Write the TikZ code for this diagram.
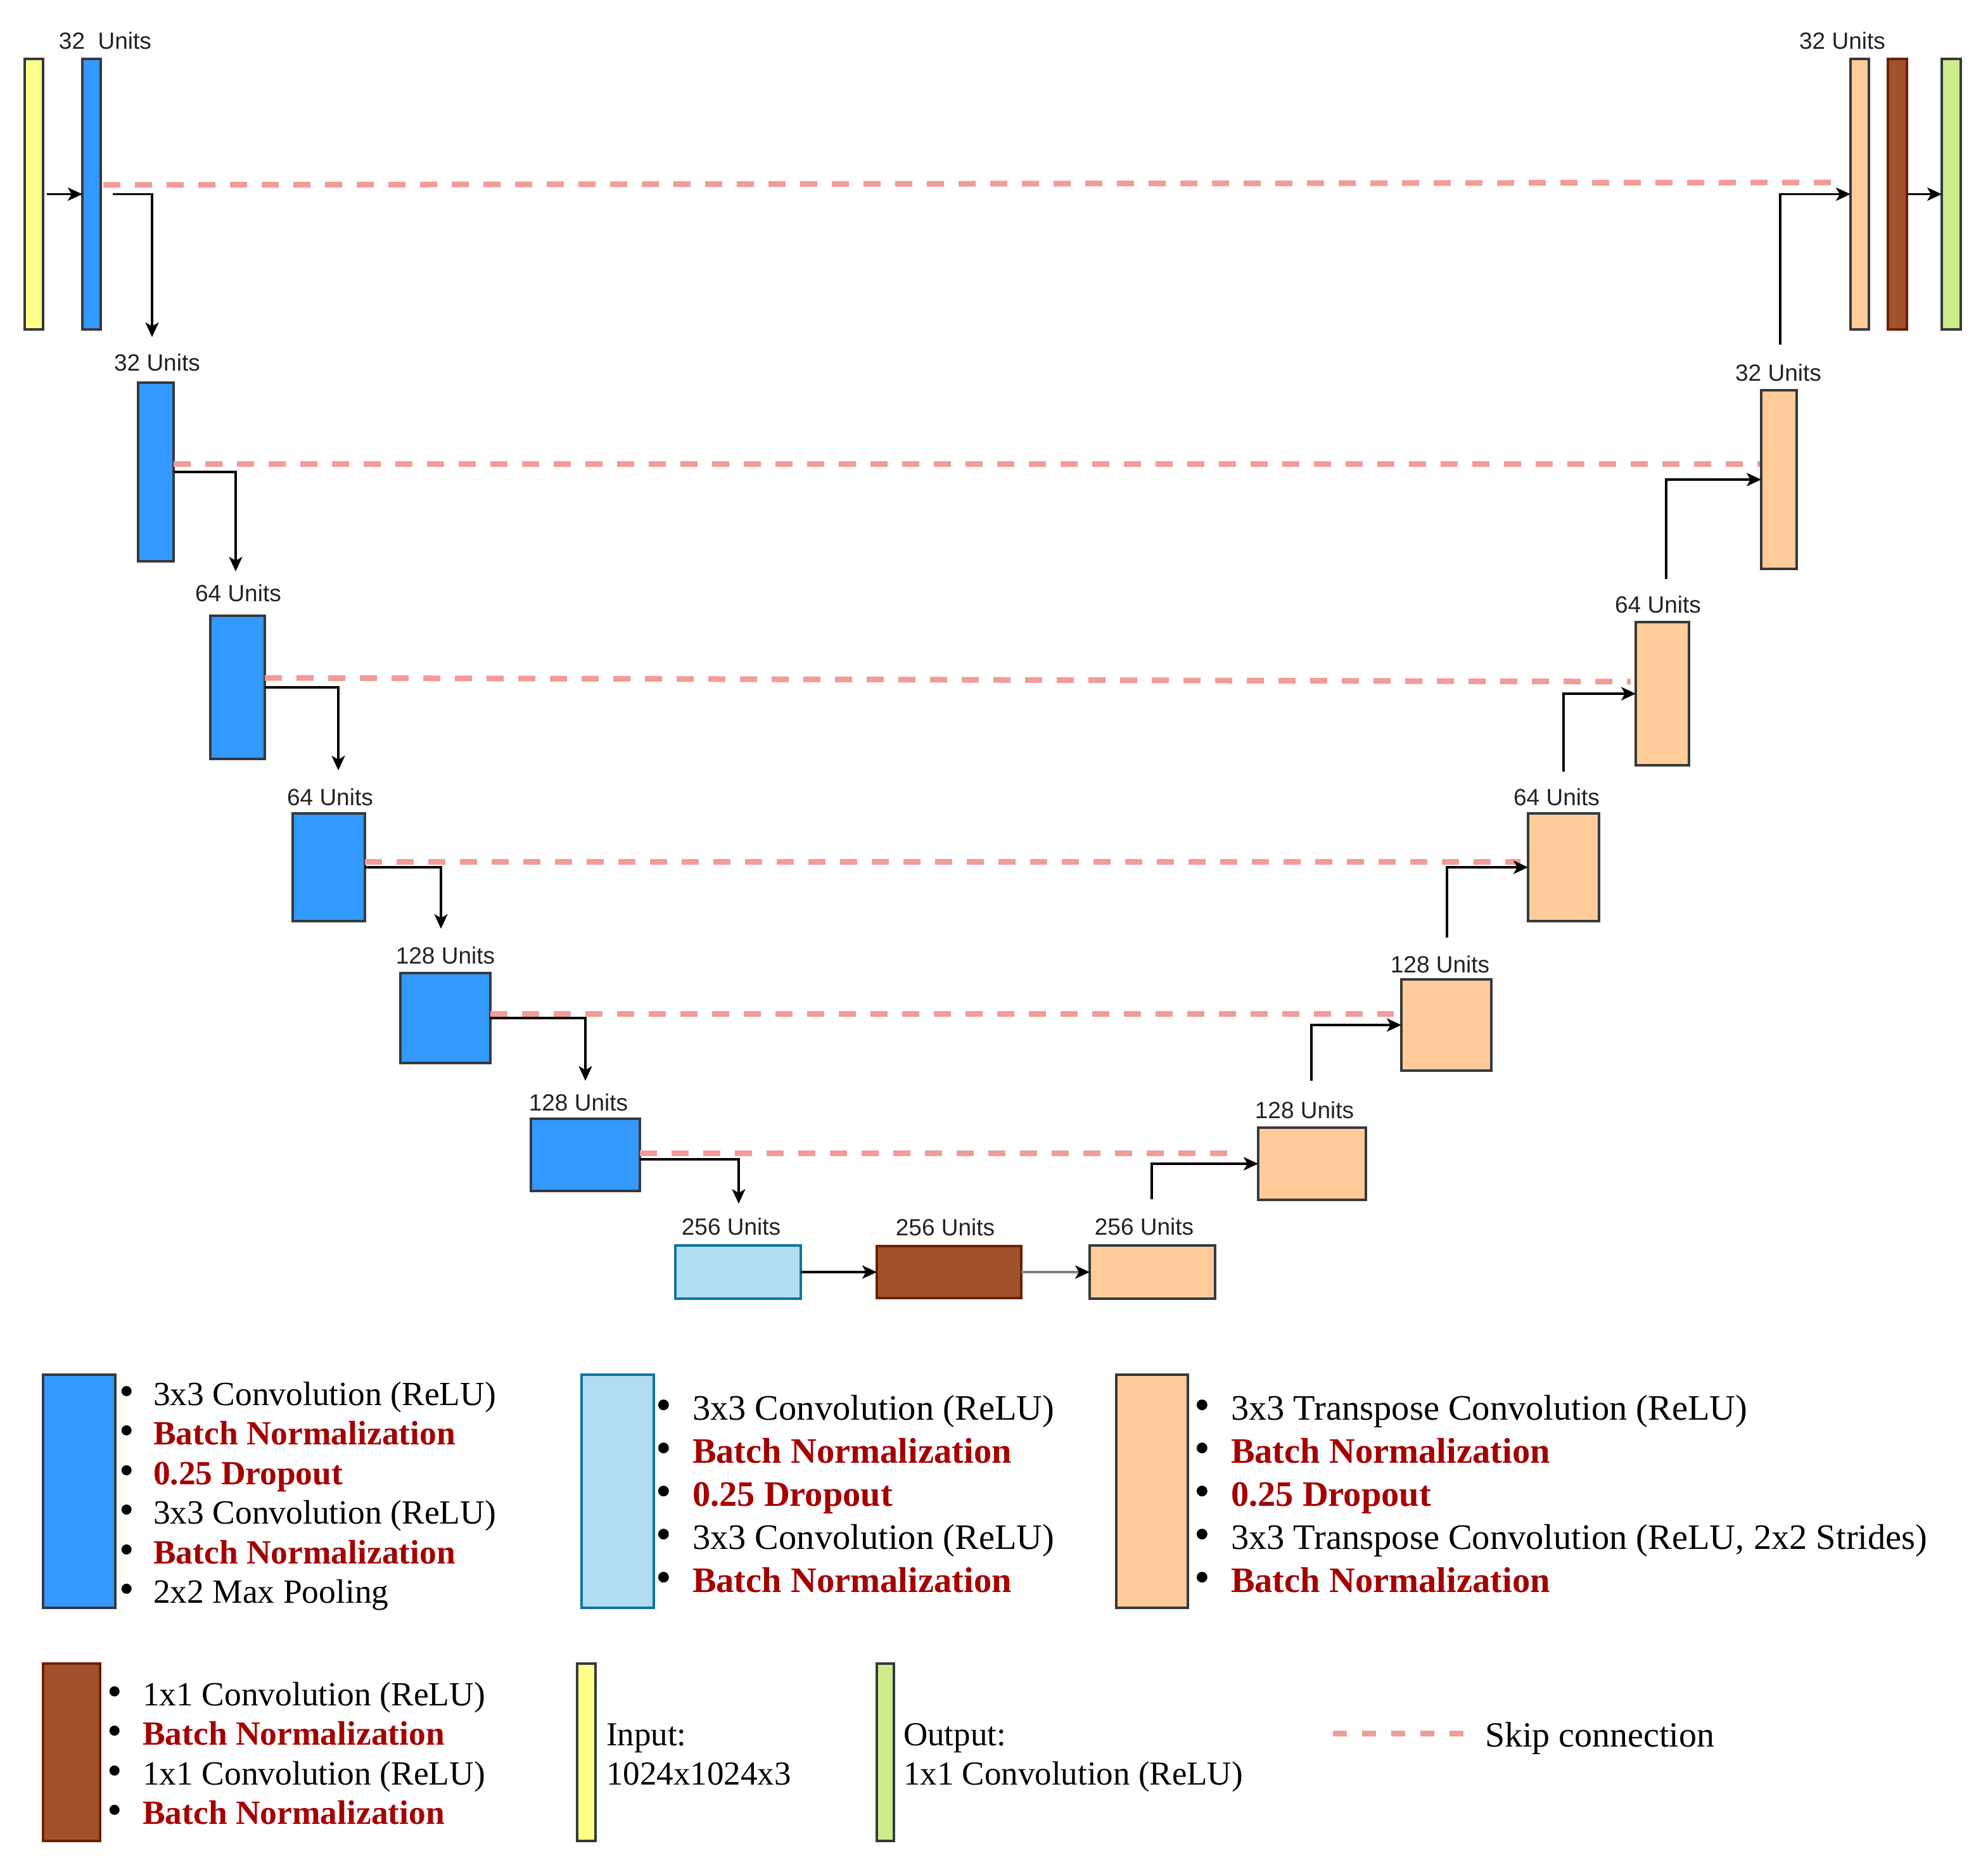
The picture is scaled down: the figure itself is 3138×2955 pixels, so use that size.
\documentclass[tikz,border=0pt]{standalone}
\usepackage{fontspec}
\setmainfont{Liberation Serif}
\newfontfamily\lblfont{Liberation Sans}
\usetikzlibrary{arrows.meta}
\definecolor{cblue}{HTML}{3399FF}
\definecolor{clblue}{HTML}{B1DDF0}
\definecolor{clbluestroke}{HTML}{10739E}
\definecolor{cpeach}{HTML}{FFCC99}
\definecolor{cbrown}{HTML}{A0522D}
\definecolor{cbrownstroke}{HTML}{6D1F00}
\definecolor{cyel}{HTML}{FFFF88}
\definecolor{cgrn}{HTML}{CDEB8B}
\definecolor{cstroke}{HTML}{36393D}
\definecolor{cskip}{HTML}{F19C99}
\definecolor{cred}{HTML}{A50000}
\definecolor{ctext}{HTML}{222222}
\newcommand{\redb}[1]{\textcolor{cred}{\textbf{#1}}}
\newcommand{\bl}[1]{\makebox[#1][l]{\scalebox{1.25}{\textbullet}}}
\begin{document}
\begin{tikzpicture}[x=1pt,y=-1pt,
  bar/.style={draw=cstroke, line width=3.5pt, inner sep=0pt, outer sep=0pt, rectangle},
  units/.style={font=\lblfont\fontsize{37}{44}\selectfont, text=ctext, anchor=base, inner sep=0pt},
  conn/.style={draw=black, line width=3.2pt, -{Stealth[length=23pt,width=21pt,inset=6pt]}},
  skipline/.style={draw=cskip, line width=9pt, dash pattern=on 27pt off 23pt},
  legtext/.style={anchor=base west, inner sep=0pt, outer sep=0pt, align=left},
]
\path[fill=white] (0,0) rectangle (3138,2955);
\useasboundingbox (0,0) rectangle (3138,2955);

% ---------------- encoder ----------------
\node[bar, fill=cyel, minimum width=29pt, minimum height=427pt] (Y0) at (53.5,306.5) {};
\node[bar, fill=cblue, minimum width=29pt, minimum height=427pt] (E0) at (144.5,306.5) {};
\node[bar, fill=cblue, minimum width=56pt, minimum height=282pt] (E1) at (246,745) {};
\node[bar, fill=cblue, minimum width=86pt, minimum height=226pt] (E2) at (375,1085) {};
\node[bar, fill=cblue, minimum width=114pt, minimum height=170pt] (E3) at (519,1369) {};
\node[bar, fill=cblue, minimum width=142pt, minimum height=142pt] (E4) at (703,1607) {};
\node[bar, fill=cblue, minimum width=172pt, minimum height=114pt] (E5) at (924,1823) {};
% ---------------- bottleneck ----------------
\node[bar, fill=clblue, draw=clbluestroke, minimum width=198pt, minimum height=84pt] (B1) at (1165,2008) {};
\node[bar, fill=cbrown, draw=cbrownstroke, minimum width=228pt, minimum height=82pt] (B2) at (1498,2008) {};
\node[bar, fill=cpeach, minimum width=198pt, minimum height=84pt] (B3) at (1819,2008) {};
% ---------------- decoder ----------------
\node[bar, fill=cpeach, minimum width=170pt, minimum height=114pt] (D5) at (2071,1837) {};
\node[bar, fill=cpeach, minimum width=142pt, minimum height=144pt] (D4) at (2283,1618) {};
\node[bar, fill=cpeach, minimum width=112pt, minimum height=170pt] (D3) at (2468,1369) {};
\node[bar, fill=cpeach, minimum width=84pt, minimum height=226pt] (D2) at (2624,1095) {};
\node[bar, fill=cpeach, minimum width=56pt, minimum height=282pt] (D1) at (2808,757) {};
\node[bar, fill=cpeach, minimum width=29pt, minimum height=427pt] (D0) at (2935.5,306.5) {};
\node[bar, fill=cbrown, draw=cbrownstroke, minimum width=30pt, minimum height=427pt] (BR) at (2995,306.5) {};
\node[bar, fill=cgrn, minimum width=30pt, minimum height=427pt] (GR) at (3080,306.5) {};

% ---------------- unit labels ----------------
\node[units] (lE0) at (166,77) {32\ \ Units};
\node[units] (lE1) at (248,585) {32 Units};
\node[units] (lE2) at (376,949) {64 Units};
\node[units] (lE3) at (521,1271) {64 Units};
\node[units] (lE4) at (703,1521) {128 Units};
\node[units] (lE5) at (913,1753) {128 Units};
\node[units] (lB1) at (1154,1949) {256 Units};
\node[units] (lB2) at (1492,1950) {256 Units};
\node[units] (lB3) at (1806,1949) {256 Units};
\node[units] (lD5) at (2059,1765) {128 Units};
\node[units] (lD4) at (2273,1535) {128 Units};
\node[units] (lD3) at (2457,1271) {64 Units};
\node[units] (lD2) at (2617,967) {64 Units};
\node[units] (lD1) at (2807,601) {32 Units};
\node[units] (lD0) at (2908,77) {32 Units};

% ---------------- skip connections ----------------
\draw[skipline] ([shift={(4pt,14.5pt)}]E0.east) -- ([shift={(-23pt,18.5pt)}]D0.west);
\draw[skipline] ([shift={(0pt,13pt)}]E1.east) -- ([shift={(-2pt,25pt)}]D1.west);
\draw[skipline] ([shift={(0pt,15pt)}]E2.east) -- ([shift={(-8pt,19pt)}]D2.west);
\draw[skipline] ([shift={(0pt,9pt)}]E3.east) -- ([shift={(-12pt,9pt)}]D3.west);
\draw[skipline] ([shift={(0pt,7pt)}]E4.east) -- ([shift={(-12pt,18pt)}]D4.west);
\draw[skipline] ([shift={(0pt,3pt)}]E5.east) -- ([shift={(-26pt,17pt)}]D5.west);

% ---------------- connectors ----------------
\draw[conn, shorten <=6pt] (Y0) -- (E0);
\draw[conn] ([xshift=19pt]E0.east) -| ([shift={(-6pt,72pt)}]E1.north);
\draw[conn] (E1.east) -| ([shift={(-3pt,70pt)}]E2.north);
\draw[conn] (E2.east) -| ([shift={(15pt,68pt)}]E3.north);
\draw[conn] (E3.east) -| ([shift={(-7pt,70pt)}]E4.north);
\draw[conn] (E4.east) -| ([shift={(0pt,60pt)}]E5.north);
\draw[conn] ([yshift=-7pt]E5.east) -| ([shift={(1pt,66pt)}]B1.north);
\draw[conn] (B1) -- (B2);
\draw[conn, draw=gray, -{Stealth[length=23pt,width=21pt,inset=6pt,black]}] (B2) -- (B3);
\draw[conn] ([shift={(-1pt,73pt)}]B3.north) |- (D5.west);
\draw[conn] ([shift={(-1pt,74pt)}]D5.north) |- (D4.west);
\draw[conn] ([shift={(1pt,66pt)}]D4.north) |- (D3.west);
\draw[conn] ([yshift=66pt]D3.north) |- (D2.west);
\draw[conn] ([shift={(6pt,68pt)}]D2.north) |- (D1.west);
\draw[conn] ([shift={(2pt,72pt)}]D1.north) |- (D0.west);
\draw[conn] (BR) -- (GR);

% ---------------- legend ----------------
\node[bar, fill=cblue, minimum width=114pt, minimum height=368pt] (L1) at (125,2354) {};
\node[legtext, font=\fontsize{53.5}{62.5}\selectfont] (T1) at (188,2218) {\begin{tabular}[t]{@{}l@{}}
\bl{54pt}3x3 Convolution (ReLU)\\
\bl{54pt}\redb{Batch Normalization}\\
\bl{54pt}\redb{0.25 Dropout}\\
\bl{54pt}3x3 Convolution (ReLU)\\
\bl{54pt}\redb{Batch Normalization}\\
\bl{54pt}2x2 Max Pooling
\end{tabular}};

\node[bar, fill=clblue, draw=clbluestroke, minimum width=114pt, minimum height=368pt] (L2) at (975,2354) {};
\node[legtext, font=\fontsize{56.5}{68}\selectfont] (T2) at (1035,2241) {\begin{tabular}[t]{@{}l@{}}
\bl{58pt}3x3 Convolution (ReLU)\\
\bl{58pt}\redb{Batch Normalization}\\
\bl{58pt}\redb{0.25 Dropout}\\
\bl{58pt}3x3 Convolution (ReLU)\\
\bl{58pt}\redb{Batch Normalization}
\end{tabular}};

\node[bar, fill=cpeach, minimum width=113pt, minimum height=368pt] (L3) at (1818.5,2354) {};
\node[legtext, font=\fontsize{56.5}{68}\selectfont] (T3) at (1885,2241) {\begin{tabular}[t]{@{}l@{}}
\bl{58pt}3x3 Transpose Convolution (ReLU)\\
\bl{58pt}\redb{Batch Normalization}\\
\bl{58pt}\redb{0.25 Dropout}\\
\bl{58pt}3x3 Transpose Convolution (ReLU, 2x2 Strides)\\
\bl{58pt}\redb{Batch Normalization}
\end{tabular}};

\node[bar, fill=cbrown, draw=cbrownstroke, minimum width=90pt, minimum height=280pt] (L4) at (113,2766) {};
\node[legtext, font=\fontsize{53.5}{62.5}\selectfont] (T4) at (169,2692) {\begin{tabular}[t]{@{}l@{}}
\bl{56pt}1x1 Convolution (ReLU)\\
\bl{56pt}\redb{Batch Normalization}\\
\bl{56pt}1x1 Convolution (ReLU)\\
\bl{56pt}\redb{Batch Normalization}
\end{tabular}};

\node[bar, fill=cyel, minimum width=29pt, minimum height=280pt] (LY) at (925.5,2766) {};
\node[legtext, font=\fontsize{53}{62}\selectfont] (TY) at (957,2755) {\begin{tabular}[t]{@{}l@{}}
Input:\\
1024x1024x3
\end{tabular}};

\node[bar, fill=cgrn, minimum width=27pt, minimum height=280pt] (LG) at (1397.5,2766) {};
\node[legtext, font=\fontsize{53}{62}\selectfont] (TG) at (1426,2755) {\begin{tabular}[t]{@{}l@{}}
Output:\\
1x1 Convolution (ReLU)
\end{tabular}};

\coordinate (sk1) at (2104,2736);
\coordinate (sk2) at (2322,2736);
\draw[skipline, dash pattern=on 22pt off 24pt] (sk1) -- (sk2);
\node[legtext, font=\fontsize{56}{60}\selectfont] (TS) at (2344,2757) {Skip connection};
\end{tikzpicture}
\end{document}
